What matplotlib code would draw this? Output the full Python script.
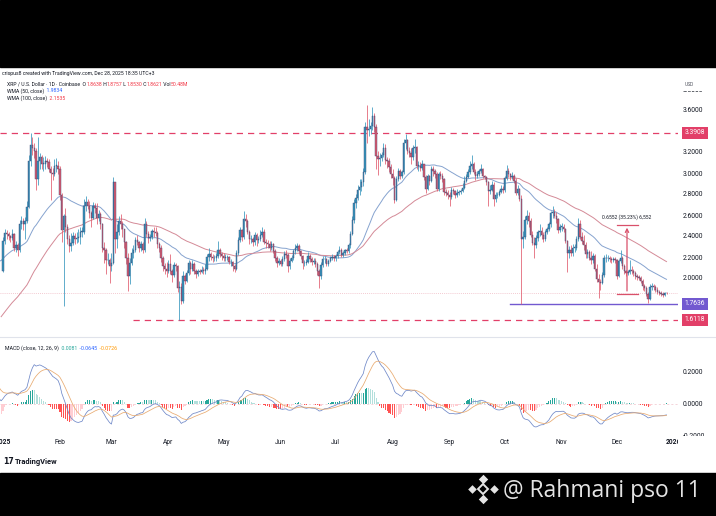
import numpy as np
import pandas as pd
import datetime as dt
import matplotlib
matplotlib.use('Agg')
import matplotlib.pyplot as plt
from matplotlib.lines import Line2D
from matplotlib.patches import Rectangle

# ---------------- data (XRP/USD daily, Coinbase) ----------------
# closes before the visible window (used only to warm up the indicators), 2024-09-23 .. 2024-12-31
pre_close = [0.59, 0.59, 0.58, 0.59, 0.59, 0.64, 0.63, 0.61,
             0.57, 0.52, 0.53, 0.53, 0.53, 0.54, 0.54, 0.53, 0.53, 0.53, 0.54, 0.54, 0.53, 0.55, 0.54, 0.55,
             0.55, 0.55, 0.55, 0.55, 0.54, 0.53, 0.52, 0.52, 0.51, 0.51, 0.52, 0.52, 0.52, 0.51, 0.50,
             0.51, 0.51, 0.50, 0.50, 0.53, 0.55, 0.55, 0.57, 0.60, 0.62, 0.71, 0.66, 0.72, 0.80, 0.96,
             1.12, 1.07, 1.12, 1.08, 1.11, 1.21, 1.45, 1.54, 1.40, 1.45, 1.41, 1.52, 1.51, 1.83, 1.95,
             2.38, 2.48, 2.74, 2.58, 2.44, 2.38, 2.48, 2.45, 2.13, 2.36, 2.36, 2.43, 2.42, 2.37, 2.38,
             2.52, 2.60, 2.31, 2.32, 2.43, 2.26, 2.21, 2.25, 2.28, 2.22, 2.18, 2.12, 2.17, 2.07, 2.06, 2.08]
start_date = dt.date(2025, 1, 1)

jan_c = [2.36, 2.44, 2.43, 2.41, 2.39, 2.43, 2.30, 2.32, 2.28, 2.52, 2.55, 2.52, 2.55, 2.69, 3.12, 3.28, 3.25, 3.22, 2.95, 3.12, 3.16, 3.10, 3.10, 3.12, 3.11, 3.05, 3.01, 3.00, 3.08, 3.08, 3.05]
jan_h = [2.40, 2.48, 2.47, 2.45, 2.42, 2.48, 2.44, 2.36, 2.34, 2.56, 2.60, 2.58, 2.59, 2.74, 3.18, 3.3908, 3.35, 3.30, 3.25, 3.35, 3.20, 3.18, 3.16, 3.17, 3.15, 3.14, 3.08, 3.06, 3.14, 3.15, 3.12]
jan_l = [2.07, 2.33, 2.38, 2.37, 2.35, 2.37, 2.27, 2.26, 2.22, 2.26, 2.48, 2.47, 2.38, 2.53, 2.68, 3.08, 3.18, 3.15, 2.85, 2.90, 3.05, 3.05, 3.03, 3.05, 3.07, 3.02, 2.75, 2.94, 2.98, 3.02, 3.00]
feb_c = [2.80, 2.47, 2.60, 2.50, 2.38, 2.31, 2.34, 2.41, 2.38, 2.39, 2.40, 2.45, 2.45, 2.70, 2.73, 2.70, 2.63, 2.58, 2.70, 2.68, 2.58, 2.62, 2.52, 2.30, 2.28, 2.18, 2.18, 2.12]
feb_h = [3.08, 2.82, 2.62, 2.68, 2.52, 2.42, 2.44, 2.45, 2.44, 2.45, 2.48, 2.50, 2.50, 2.76, 2.79, 2.76, 2.74, 2.65, 2.73, 2.72, 2.72, 2.66, 2.64, 2.53, 2.35, 2.30, 2.25, 2.20]
feb_l = [2.75, 2.35, 1.74, 2.45, 2.33, 2.26, 2.27, 2.32, 2.33, 2.34, 2.35, 2.33, 2.40, 2.43, 2.65, 2.67, 2.58, 2.50, 2.57, 2.63, 2.52, 2.55, 2.48, 2.26, 2.15, 2.05, 2.14, 1.96]
mar_c = [2.15, 2.92, 2.38, 2.45, 2.55, 2.52, 2.48, 2.35, 2.20, 2.03, 2.15, 2.25, 2.28, 2.37, 2.35, 2.30, 2.33, 2.28, 2.52, 2.43, 2.39, 2.40, 2.46, 2.45, 2.44, 2.33, 2.30, 2.20, 2.12, 2.10, 2.08]
mar_h = [2.25, 2.97, 2.92, 2.52, 2.60, 2.62, 2.55, 2.48, 2.36, 2.25, 2.20, 2.30, 2.32, 2.40, 2.42, 2.36, 2.36, 2.35, 2.58, 2.55, 2.46, 2.43, 2.48, 2.50, 2.50, 2.46, 2.35, 2.32, 2.22, 2.15, 2.16]
mar_l = [2.08, 2.14, 2.25, 2.30, 2.42, 2.48, 2.40, 2.30, 2.14, 1.89, 1.95, 2.13, 2.20, 2.26, 2.32, 2.26, 2.27, 2.25, 2.26, 2.40, 2.34, 2.36, 2.38, 2.40, 2.41, 2.30, 2.26, 2.16, 2.08, 2.05, 2.02]
apr_c = [2.14, 2.08, 2.04, 2.13, 2.12, 1.91, 1.92, 1.79, 2.03, 1.98, 2.06, 2.15, 2.10, 2.14, 2.08, 2.05, 2.08, 2.07, 2.09, 2.08, 2.10, 2.21, 2.24, 2.21, 2.20, 2.20, 2.22, 2.28, 2.24, 2.22]
apr_h = [2.18, 2.24, 2.10, 2.16, 2.15, 2.13, 1.98, 1.96, 2.08, 2.05, 2.09, 2.18, 2.17, 2.18, 2.16, 2.10, 2.10, 2.10, 2.12, 2.11, 2.14, 2.24, 2.30, 2.26, 2.24, 2.23, 2.25, 2.36, 2.30, 2.26]
apr_l = [2.06, 2.05, 1.97, 2.02, 2.08, 1.88, 1.6118, 1.76, 1.77, 1.95, 1.97, 2.04, 2.05, 2.08, 2.05, 2.01, 2.03, 2.05, 2.06, 2.05, 2.05, 2.09, 2.17, 2.18, 2.16, 2.17, 2.17, 2.20, 2.21, 2.18]
may_c = [2.20, 2.21, 2.21, 2.16, 2.16, 2.12, 2.10, 2.25, 2.37, 2.47, 2.40, 2.57, 2.55, 2.45, 2.38, 2.38, 2.35, 2.42, 2.37, 2.38, 2.42, 2.45, 2.35, 2.34, 2.33, 2.30, 2.33, 2.27, 2.20, 2.15, 2.17]
may_h = [2.25, 2.24, 2.23, 2.22, 2.19, 2.17, 2.14, 2.28, 2.40, 2.50, 2.48, 2.65, 2.62, 2.57, 2.47, 2.42, 2.40, 2.45, 2.44, 2.41, 2.47, 2.50, 2.48, 2.38, 2.37, 2.36, 2.36, 2.34, 2.29, 2.22, 2.20]
may_l = [2.17, 2.17, 2.18, 2.14, 2.12, 2.08, 2.07, 2.09, 2.23, 2.35, 2.36, 2.38, 2.50, 2.43, 2.33, 2.34, 2.31, 2.32, 2.31, 2.34, 2.36, 2.40, 2.33, 2.30, 2.30, 2.27, 2.28, 2.25, 2.17, 2.11, 2.13]
jun_c = [2.14, 2.19, 2.24, 2.23, 2.12, 2.17, 2.20, 2.27, 2.30, 2.31, 2.27, 2.22, 2.15, 2.15, 2.16, 2.22, 2.19, 2.16, 2.17, 2.14, 2.08, 2.03, 2.13, 2.19, 2.19, 2.14, 2.17, 2.20, 2.21, 2.20]
jun_h = [2.19, 2.22, 2.27, 2.28, 2.25, 2.20, 2.23, 2.29, 2.33, 2.34, 2.33, 2.28, 2.23, 2.18, 2.19, 2.26, 2.24, 2.21, 2.20, 2.20, 2.16, 2.10, 2.16, 2.22, 2.22, 2.20, 2.19, 2.22, 2.24, 2.23]
jun_l = [2.12, 2.12, 2.17, 2.20, 2.07, 2.10, 2.16, 2.18, 2.24, 2.27, 2.24, 2.19, 2.10, 2.12, 2.13, 2.15, 2.16, 2.13, 2.14, 2.11, 2.04, 1.91, 2.00, 2.11, 2.15, 2.12, 2.12, 2.16, 2.18, 2.17]
jul_c = [2.22, 2.26, 2.28, 2.23, 2.25, 2.28, 2.27, 2.32, 2.43, 2.56, 2.72, 2.77, 2.85, 2.88, 2.92, 3.02, 3.45, 3.42, 3.43, 3.46, 3.55, 3.45, 3.17, 3.14, 3.15, 3.18, 3.25, 3.13, 3.12, 3.07, 3.00]
jul_h = [2.24, 2.28, 2.31, 2.30, 2.27, 2.29, 2.30, 2.34, 2.46, 2.60, 2.76, 2.81, 2.90, 2.95, 2.95, 3.06, 3.50, 3.66, 3.52, 3.50, 3.64, 3.58, 3.48, 3.22, 3.20, 3.21, 3.30, 3.29, 3.16, 3.15, 3.10]
jul_l = [2.17, 2.20, 2.24, 2.21, 2.21, 2.23, 2.25, 2.25, 2.30, 2.42, 2.53, 2.68, 2.75, 2.80, 2.84, 2.89, 3.00, 3.30, 3.36, 3.38, 3.42, 3.40, 3.05, 2.99, 3.08, 3.12, 3.16, 3.10, 3.06, 3.02, 2.96]
aug_c = [2.96, 2.75, 2.95, 3.03, 2.98, 3.02, 3.30, 3.32, 3.22, 3.20, 3.16, 3.25, 3.26, 3.08, 3.08, 3.06, 3.10, 2.97, 2.86, 2.98, 2.93, 3.05, 3.03, 3.00, 2.86, 3.00, 2.98, 2.95, 2.83, 2.82, 2.80]
aug_h = [3.05, 2.98, 2.98, 3.06, 3.05, 3.04, 3.33, 3.38, 3.33, 3.26, 3.25, 3.28, 3.33, 3.27, 3.12, 3.11, 3.13, 3.10, 2.99, 3.00, 2.99, 3.08, 3.08, 3.05, 3.02, 3.02, 3.03, 3.01, 2.96, 2.86, 2.85]
aug_l = [2.90, 2.72, 2.74, 2.93, 2.95, 2.96, 3.00, 3.24, 3.19, 3.16, 3.10, 3.13, 3.20, 3.05, 3.03, 3.03, 3.04, 2.94, 2.82, 2.85, 2.90, 2.92, 2.98, 2.96, 2.84, 2.84, 2.95, 2.92, 2.80, 2.79, 2.76]
sep_c = [2.78, 2.85, 2.84, 2.80, 2.82, 2.83, 2.84, 2.87, 2.93, 2.97, 3.02, 3.08, 3.10, 3.02, 2.98, 3.00, 3.03, 3.05, 2.98, 2.97, 2.92, 2.84, 2.85, 2.90, 2.76, 2.80, 2.80, 2.83, 2.86, 2.85]
sep_h = [2.83, 2.88, 2.87, 2.85, 2.86, 2.85, 2.86, 2.91, 2.98, 3.00, 3.05, 3.12, 3.18, 3.11, 3.05, 3.03, 3.05, 3.10, 3.06, 2.99, 2.98, 2.93, 2.90, 2.93, 2.92, 2.83, 2.83, 2.85, 2.90, 2.89]
sep_l = [2.70, 2.76, 2.81, 2.77, 2.78, 2.80, 2.81, 2.83, 2.86, 2.92, 2.96, 3.00, 3.05, 3.00, 2.94, 2.96, 2.98, 3.01, 2.96, 2.95, 2.90, 2.70, 2.81, 2.84, 2.70, 2.73, 2.77, 2.79, 2.82, 2.82]
oct_c = [2.96, 3.03, 3.00, 2.97, 2.98, 2.93, 2.82, 2.86, 2.76, 2.38, 2.40, 2.56, 2.60, 2.55, 2.42, 2.34, 2.32, 2.39, 2.45, 2.46, 2.42, 2.38, 2.45, 2.48, 2.52, 2.63, 2.64, 2.60, 2.57, 2.47, 2.50]
oct_h = [2.98, 3.09, 3.06, 3.01, 3.02, 3.00, 2.96, 2.90, 2.87, 2.80, 2.46, 2.60, 2.66, 2.64, 2.58, 2.46, 2.40, 2.42, 2.47, 2.52, 2.50, 2.45, 2.47, 2.50, 2.54, 2.65, 2.70, 2.67, 2.64, 2.58, 2.52]
oct_l = [2.83, 2.94, 2.97, 2.94, 2.95, 2.91, 2.80, 2.80, 2.74, 1.7636, 2.30, 2.38, 2.52, 2.50, 2.40, 2.32, 2.20, 2.30, 2.36, 2.41, 2.38, 2.35, 2.36, 2.43, 2.46, 2.50, 2.58, 2.58, 2.53, 2.44, 2.45]
nov_c = [2.50, 2.48, 2.36, 2.25, 2.28, 2.25, 2.30, 2.30, 2.38, 2.52, 2.40, 2.36, 2.32, 2.24, 2.26, 2.20, 2.18, 2.22, 2.10, 2.00, 1.97, 1.96, 2.04, 2.20, 2.20, 2.20, 2.19, 2.18, 2.19, 2.18]
nov_h = [2.53, 2.52, 2.49, 2.37, 2.31, 2.32, 2.33, 2.33, 2.41, 2.58, 2.56, 2.45, 2.42, 2.35, 2.29, 2.28, 2.27, 2.25, 2.24, 2.14, 2.05, 2.00, 2.07, 2.23, 2.24, 2.23, 2.22, 2.21, 2.21, 2.21]
nov_l = [2.46, 2.45, 2.34, 2.07, 2.20, 2.22, 2.22, 2.26, 2.28, 2.36, 2.38, 2.33, 2.28, 2.20, 2.20, 2.18, 2.14, 2.15, 2.08, 1.97, 1.82, 1.90, 1.95, 2.02, 2.16, 2.17, 2.16, 2.15, 2.16, 2.15]
dec_c = [2.03, 2.17, 2.20, 2.12, 2.08, 2.06, 2.07, 2.09, 2.08, 2.06, 2.03, 2.02, 2.01, 1.98, 1.93, 1.91, 1.86, 1.81, 1.92, 1.93, 1.92, 1.90, 1.88, 1.87, 1.86, 1.85, 1.8638, 1.8621]
dec_h = [2.19, 2.19, 2.28, 2.22, 2.14, 2.09, 2.09, 2.18, 2.12, 2.10, 2.08, 2.05, 2.04, 2.03, 2.00, 1.95, 1.93, 1.88, 1.95, 1.96, 1.95, 1.94, 1.92, 1.90, 1.89, 1.88, 1.88, 1.8757]
dec_l = [2.00, 2.02, 2.15, 2.10, 2.05, 2.03, 2.04, 2.05, 2.05, 2.03, 2.00, 1.99, 1.99, 1.96, 1.90, 1.89, 1.84, 1.77, 1.80, 1.90, 1.90, 1.88, 1.86, 1.85, 1.84, 1.83, 1.84, 1.8530]

# horizontal levels drawn on the chart
resistance = 3.3908
support = 1.6118
range_low = 1.7636
measure_low, measure_high = 1.8598, 2.5150

month_labels = ['2025', 'Feb', 'Mar', 'Apr', 'May', 'Jun', 'Jul', 'Aug', 'Sep', 'Oct', 'Nov', 'Dec', '2026']
month_starts = [dt.date(2025, m, 1) for m in range(1, 13)] + [dt.date(2026, 1, 1)]
price_ticks = [3.8, 3.6, 3.2, 3.0, 2.8, 2.6, 2.4, 2.2, 2.0]   # 3.4, 1.8, 1.6 sit under the level tags
macd_ticks = [0.2, 0.0, -0.2]

# ---------------- series ----------------
close = np.array(jan_c + feb_c + mar_c + apr_c + may_c + jun_c + jul_c + aug_c + sep_c + oct_c + nov_c + dec_c)
high = np.array(jan_h + feb_h + mar_h + apr_h + may_h + jun_h + jul_h + aug_h + sep_h + oct_h + nov_h + dec_h)
low = np.array(jan_l + feb_l + mar_l + apr_l + may_l + jun_l + jul_l + aug_l + sep_l + oct_l + nov_l + dec_l)
opn = np.concatenate([[pre_close[-1]], close[:-1]])
high = np.maximum(high, np.maximum(opn, close))
low = np.minimum(low, np.minimum(opn, close))
n = len(close)
days = np.arange(n)
all_close = np.concatenate([pre_close, close])
all_days = np.arange(-len(pre_close), n)


def wma(x, length):
    w = np.arange(1, length + 1, dtype=float)
    out = np.full(len(x), np.nan)
    for i in range(length - 1, len(x)):
        out[i] = np.dot(x[i - length + 1:i + 1], w) / w.sum()
    return out


wma50 = wma(all_close, 50)
wma100 = wma(all_close, 100)
s = pd.Series(all_close)
macd = (s.ewm(span=12, adjust=False).mean() - s.ewm(span=26, adjust=False).mean()).values
signal = pd.Series(macd).ewm(span=9, adjust=False).mean().values
hist = macd - signal
prev_hist = np.concatenate([[hist[0]], hist[:-1]])

# ---------------- layout (pixel geometry of the screenshot) ----------------
W, H = 716, 516
PXD, X0 = 1.838, 3.0


def day_of_px(x):
    return (x - X0) / PXD


def price_of_py(y):
    return 3.6 - (y - 111) / 105


def macd_of_py(y):
    return (404 - y) / 160


plt.rcParams['font.family'] = ['Roboto', 'DejaVu Sans']
fig = plt.figure(figsize=(W / 100, H / 100), dpi=100)
fig.patch.set_facecolor('white')


def axes_px(x0, y0, x1, y1):
    ax = fig.add_axes([x0 / W, 1 - y1 / H, (x1 - x0) / W, (y1 - y0) / H])
    ax.set_axis_off()
    return ax


fig.add_artist(Rectangle((0, 1 - 67 / H), 1, 67 / H, transform=fig.transFigure, color='black'))
fig.add_artist(Rectangle((0, 0), 1, (H - 473) / H, transform=fig.transFigure, color='black'))
fig.add_artist(Line2D([0, 1], [1 - 337 / H] * 2, transform=fig.transFigure, color='#e0e3eb', lw=0.8))

XL = (day_of_px(0), day_of_px(678))
TXT = '#131722'
UP, DN = '#3596bd', '#e05a6c'
EDGE = '#3d4a78'
PINK = '#e23f68'
PURPLE = '#7259d0'

# ---- price pane ----
ax = axes_px(0, 67, 678, 333)
ax.set_xlim(*XL)
ax.set_ylim(price_of_py(333), price_of_py(67))
ax.plot(all_days, wma50, color='#86a3cf', lw=0.7, zorder=2)
ax.plot(all_days, wma100, color='#d48a97', lw=0.7, zorder=2)
up = close >= opn
cols = np.where(up, UP, DN)
ax.vlines(days, low, high, colors=cols, lw=0.55, zorder=3)
ax.bar(days, np.maximum(np.abs(close - opn), 0.004), bottom=np.minimum(opn, close), width=0.72,
       color=cols, edgecolor=EDGE, linewidth=0.3, zorder=4)
ax.axhline(resistance, color=PINK, lw=0.9, ls=(0, (5, 4)), zorder=1)
ax.plot([day_of_px(133), XL[1]], [support] * 2, color=PINK, lw=0.9, ls=(0, (5, 4)), zorder=1)
ax.plot([day_of_px(510), XL[1]], [range_low] * 2, color=PURPLE, lw=1.0, zorder=1)
ax.axhline(close[-1], color='#f0b8c2', lw=0.6, ls=(0, (1, 1.5)), zorder=1)
# price range measurement
mx = day_of_px(627)
ax.plot([day_of_px(617), day_of_px(638)], [measure_low] * 2, color='#d9506a', lw=0.9, zorder=5)
ax.plot([day_of_px(617), day_of_px(638)], [measure_high] * 2, color='#d9506a', lw=0.9, zorder=5)
ax.annotate('', xy=(mx, measure_high), xytext=(mx, measure_low),
            arrowprops=dict(arrowstyle='->', color='#d9506a', lw=0.9, mutation_scale=6), zorder=5)
chg = measure_high - measure_low
ax.text(mx, price_of_py(217), f'{chg:.4f} ({chg / measure_low * 100:.2f}%) 6,552', fontsize=3.6,
        color=TXT, ha='center', va='center', zorder=6)

# ---- price scale ----
aps = axes_px(678, 91, 716, 333)
aps.set_xlim(0, 1)
aps.set_ylim(price_of_py(333), price_of_py(91))
for v in price_ticks:
    aps.text(5 / 38, v, f'{v:.4f}', fontsize=4.9, color=TXT, ha='left', va='center', clip_on=True)
for v, c in [(resistance, PINK), (range_low, PURPLE), (support, PINK)]:
    aps.text(17 / 38, v, f'{v:.4f}', fontsize=4.9, color='white', ha='center', va='center', zorder=5,
             bbox=dict(boxstyle='square,pad=0.35', fc=c, ec='none'))
fig.text(685 / W, 1 - 84 / H, 'USD', fontsize=3.5, color='#50535e', ha='left', va='center')

# ---- MACD pane ----
am = axes_px(0, 338, 678, 436)
am.set_xlim(*XL)
am.set_ylim(macd_of_py(436), macd_of_py(338))
hcols = np.where(hist >= 0, np.where(hist > prev_hist, '#26a69a', '#b2dfdb'),
                 np.where(hist > prev_hist, '#ffcdd2', '#ff5252'))
am.bar(all_days, hist, width=0.6, color=hcols, zorder=2)
am.axhline(0, color='#f0c4cc', lw=0.5, ls=(0, (3, 3)), zorder=1)
am.plot(all_days, macd, color='#6f88c8', lw=0.55, zorder=3)
am.plot(all_days, signal, color='#e8aa70', lw=0.55, zorder=3)

ams = axes_px(678, 338, 716, 435.5)
ams.set_xlim(0, 1)
ams.set_ylim(macd_of_py(435.5), macd_of_py(338))
for v in macd_ticks:
    ams.text(5 / 38, v, f'{v:.4f}', fontsize=4.9, color=TXT, ha='left', va='center', clip_on=True)

# ---- time axis ----
at = axes_px(0, 436, 678, 452)
at.set_xlim(*XL)
at.set_ylim(0, 1)
for lab, d in zip(month_labels, month_starts):
    x = (d - start_date).days
    bold = lab.isdigit()
    at.text(x, 0.62, lab, fontsize=4.8, color=TXT, ha='center', va='center',
            fontweight='bold' if bold else 'normal', clip_on=True)

# ---- legends ----
r = fig.canvas.get_renderer()


def seq(x, y, parts, size=3.7):
    for txt, c in parts:
        t = fig.text(x / W, 1 - y / H, txt, fontsize=size, color=c, ha='left', va='center')
        x += t.get_window_extent(renderer=r).width
    return x


fig.text(2 / W, 1 - 73 / H, 'crispus8 created with TradingView.com, Dec 28, 2025 18:35 UTC+3',
         fontsize=3.7, color=TXT, ha='left', va='center')
RED = '#f23645'
seq(7, 84, [('XRP / U.S. Dollar · 1D · Coinbase', TXT), ('  O', TXT), ('1.8638', RED), (' H', TXT),
            ('1.8757', RED), (' L', TXT), ('1.8530', RED), (' C', TXT), ('1.8621', RED),
            (' Vol', TXT), ('50.48M', RED)])
seq(7, 91, [('WMA (50, close)', TXT), ('  1.9834', '#2962ff')])
seq(7, 98, [('WMA (100, close)', TXT), ('  2.1535', RED)])
seq(5, 348, [('MACD (close, 12, 26, 9)', TXT), ('  0.0081', '#26a69a'), ('  -0.0645', '#2962ff'),
             ('  -0.0726', '#ff9800')], size=3.8)

# TradingView mark
fig.text(3 / W, 1 - 462 / H, '17', fontsize=5.6, fontweight='bold', color=TXT, ha='left', va='center',
         family='DejaVu Sans')
fig.text(15 / W, 1 - 462 / H, 'TradingView', fontsize=5.4, fontweight='bold', color=TXT, ha='left',
         va='center')

# watermark
fig.text(503 / W, 1 - 497 / H, '@ Rahmani pso 11', fontsize=16.5, color='#e4e4e4', ha='left',
         va='baseline', family='Open Sans')
cx, cy = 483, 489


def mark(x, y, ms, fill=True):
    fig.add_artist(Line2D([x / W], [1 - y / H], marker='D', ms=ms, transform=fig.transFigure,
                          mfc='#e4e4e4' if fill else 'none', mec='#e4e4e4', mew=1.4, ls='none'))


mark(cx, cy, 5.5, fill=False)
mark(cx - 11, cy, 3)
mark(cx + 11, cy, 3)
mark(cx, cy - 10, 3.4)
mark(cx, cy + 10, 3.4)

fig.savefig('out.png', dpi=100, facecolor='white')
